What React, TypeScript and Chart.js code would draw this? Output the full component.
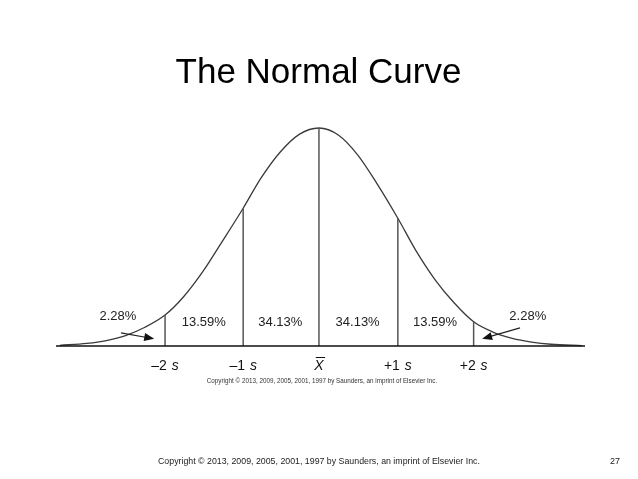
import React, { useEffect, useRef } from "react";
import { Chart, registerables } from "chart.js";

Chart.register(...registerables);

// Curve: position in standard deviations, height relative to the peak
const curveZ = [-3.35, -3.0, -2.75, -2.5, -2.25, -1.99, -1.75, -1.5, -1.25, -0.98, -0.75, -0.5, -0.25, 0, 0.25, 0.5, 0.75, 1.02, 1.25, 1.5, 1.75, 2.0, 2.25, 2.5, 2.75, 3.0, 3.4];
const curveH = [0.003, 0.012, 0.025, 0.048, 0.086, 0.142, 0.226, 0.342, 0.48, 0.632, 0.77, 0.89, 0.972, 1.0, 0.968, 0.877, 0.745, 0.586, 0.44, 0.305, 0.197, 0.111, 0.064, 0.035, 0.018, 0.008, 0.002];

// Vertical dividers
const dividerZ = [-1.99, -0.98, 0, 1.02, 2.0];
const dividerH = [0.142, 0.632, 1.0, 0.586, 0.111];

// Area percentages
const percentLabels = ["2.28%", "13.59%", "34.13%", "34.13%", "13.59%", "2.28%"];
const percentZ = [-2.6, -1.49, -0.5, 0.5, 1.5, 2.7];
const percentY = [0.134, 0.11, 0.11, 0.11, 0.11, 0.134];

// Arrows for the tails
const arrowFromZ = [-2.56, 2.6];
const arrowFromY = [0.06, 0.083];
const arrowToZ = [-2.13, 2.11];
const arrowToY = [0.033, 0.033];

// Tick labels
const tickZ = [-1.99, -0.98, 0, 1.02, 2.0];
const tickLabels = ["–2", "–1", "X", "+1", "+2"];

const titleText = "The Normal Curve";
const figureCredit = "Copyright © 2013, 2009, 2005, 2001, 1997 by Saunders, an imprint of Elsevier Inc.";
const footerText = "Copyright © 2013, 2009, 2005, 2001, 1997 by Saunders, an imprint of Elsevier Inc.";
const pageNumber = "27";

const FONT = '"Liberation Sans", Arial, sans-serif';

const textPlugin = {
  id: "slideText",
  afterDatasetsDraw(chart: any) {
    const ctx = chart.ctx as CanvasRenderingContext2D;
    const xs = chart.scales.x;
    const ys = chart.scales.y;
    ctx.save();

    // Title
    ctx.fillStyle = "#000";
    ctx.font = `35px ${FONT}`;
    ctx.textAlign = "center";
    ctx.textBaseline = "alphabetic";
    ctx.fillText(titleText, 318.5, 83);

    // Percentages
    ctx.font = `13px ${FONT}`;
    ctx.fillStyle = "#222";
    ctx.textBaseline = "middle";
    percentLabels.forEach((t, i) => {
      ctx.fillText(t, xs.getPixelForValue(percentZ[i]), ys.getPixelForValue(percentY[i]));
    });

    // Arrows
    ctx.strokeStyle = "#222";
    ctx.fillStyle = "#111";
    ctx.lineWidth = 1.2;
    arrowFromZ.forEach((_, i) => {
      const x1 = xs.getPixelForValue(arrowFromZ[i]);
      const y1 = ys.getPixelForValue(arrowFromY[i]);
      const x2 = xs.getPixelForValue(arrowToZ[i]);
      const y2 = ys.getPixelForValue(arrowToY[i]);
      const a = Math.atan2(y2 - y1, x2 - x1);
      const L = 10, W = 4;
      ctx.beginPath();
      ctx.moveTo(x1, y1);
      ctx.lineTo(x2 - L * 0.6 * Math.cos(a), y2 - L * 0.6 * Math.sin(a));
      ctx.stroke();
      ctx.beginPath();
      ctx.moveTo(x2, y2);
      ctx.lineTo(x2 - L * Math.cos(a) + W * Math.sin(a), y2 - L * Math.sin(a) - W * Math.cos(a));
      ctx.lineTo(x2 - L * Math.cos(a) - W * Math.sin(a), y2 - L * Math.sin(a) + W * Math.cos(a));
      ctx.closePath();
      ctx.fill();
    });

    // Tick labels
    const base = ys.getPixelForValue(0);
    const ty = base + 20;
    ctx.fillStyle = "#111";
    ctx.textBaseline = "middle";
    tickLabels.forEach((t, i) => {
      const cx = xs.getPixelForValue(tickZ[i]);
      if (t === "X") {
        ctx.font = `italic 14px ${FONT}`;
        ctx.textAlign = "center";
        ctx.fillText("X", cx, ty);
        const w = ctx.measureText("X").width;
        ctx.strokeStyle = "#111";
        ctx.lineWidth = 1;
        ctx.beginPath();
        ctx.moveTo(cx - w / 2 + 1.5, ty - 8.5);
        ctx.lineTo(cx + w / 2 + 1.5, ty - 8.5);
        ctx.stroke();
      } else {
        ctx.font = `14px ${FONT}`;
        const a = t + " ";
        const wa = ctx.measureText(a).width + 1;
        ctx.font = `italic 14px ${FONT}`;
        const wb = ctx.measureText("s").width;
        const left = cx - (wa + wb) / 2;
        ctx.textAlign = "left";
        ctx.font = `14px ${FONT}`;
        ctx.fillText(a, left, ty);
        ctx.font = `italic 14px ${FONT}`;
        ctx.fillText("s", left + wa, ty);
      }
    });

    // Figure credit
    ctx.font = `6.3px ${FONT}`;
    ctx.fillStyle = "#333";
    ctx.textAlign = "center";
    ctx.fillText(figureCredit, 322, base + 35);

    // Footer
    ctx.font = `8.8px ${FONT}`;
    ctx.fillStyle = "#222";
    ctx.textAlign = "left";
    ctx.fillText(footerText, 158, 461.5);
    ctx.textAlign = "right";
    ctx.font = `9px ${FONT}`;
    ctx.fillText(pageNumber, 620, 461.5);

    ctx.restore();
  },
};

export default function App() {
  const ref = useRef<HTMLCanvasElement | null>(null);
  useEffect(() => {
    document.body.style.margin = "0";
    document.body.style.background = "#fff";
    const canvas = ref.current;
    if (!canvas) return;
    const datasets: any[] = [];
    datasets.push({
      data: [{ x: -3.4, y: 0 }, { x: 3.44, y: 0 }],
      borderColor: "#111",
      borderWidth: 1.6,
      pointRadius: 0,
      showLine: true,
      clip: false,
    });
    dividerZ.forEach((z, i) => {
      datasets.push({
        data: [{ x: z, y: 0 }, { x: z, y: dividerH[i] }],
        borderColor: "#555",
        borderWidth: 1.5,
        pointRadius: 0,
        showLine: true,
        clip: false,
      });
    });
    datasets.push({
      data: curveZ.map((z, i) => ({ x: z, y: curveH[i] })),
      borderColor: "#3a3a3a",
      borderWidth: 1.3,
      pointRadius: 0,
      showLine: true,
      cubicInterpolationMode: "monotone",
      clip: false,
    });
    const chart = new Chart(canvas, {
      type: "scatter",
      data: { datasets },
      options: {
        animation: false,
        responsive: false,
        layout: { padding: { left: 56, right: 53, top: 128, bottom: 133 } },
        scales: {
          x: { type: "linear", min: -3.4, max: 3.44, display: false },
          y: { type: "linear", min: 0, max: 1, display: false },
        },
        plugins: { legend: { display: false }, tooltip: { enabled: false }, title: { display: false } },
      },
      plugins: [textPlugin],
    } as any);
    return () => chart.destroy();
  }, []);
  return <canvas ref={ref} width={638} height={479} style={{ display: "block" }} />;
}
